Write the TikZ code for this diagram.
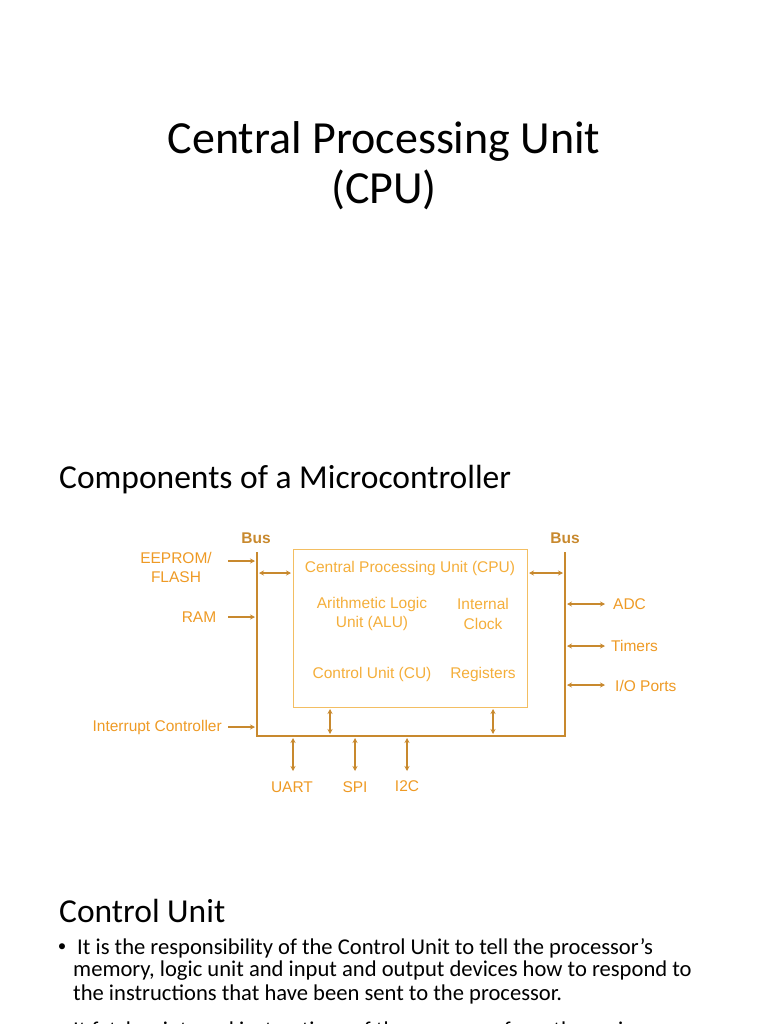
\documentclass[tikz,border=0pt]{standalone}
\usepackage{fontspec}
\usetikzlibrary{arrows.meta}
\setmainfont{Carlito}
\newfontfamily\arialf{Liberation Sans}
\begin{document}
\begin{tikzpicture}[x=1pt,y=-1pt,
  bus/.style={draw=busc,line width=1.6pt},
  arr/.style={draw=busc,line width=1.2pt,-{Stealth[length=5pt,width=5pt]}},
  darr/.style={draw=busc,line width=1.2pt,{Stealth[length=5pt,width=5pt]}-{Stealth[length=5pt,width=5pt]}},
  lbl/.style={text=lblc,font=\arialf\fontsize{15.5}{19}\selectfont,inner sep=0pt,align=center},
  inl/.style={text=inc,font=\arialf\fontsize{15.5}{19.5}\selectfont,inner sep=0pt,align=center},
  body/.style={font=\fontsize{22.6}{23}\selectfont,anchor=west,inner sep=0pt}]
\definecolor{busc}{HTML}{C8892E}
\definecolor{lblc}{HTML}{EE9A25}
\definecolor{inc}{HTML}{F4AE3A}
\definecolor{boxc}{HTML}{F3BE62}
\clip (0,0) rectangle (768,1024);
\useasboundingbox (0,0) rectangle (768,1024);
\node[font=\fontsize{46}{50}\selectfont,align=center] (title) at (384,166) {Central Processing Unit\\(CPU)};
\node[font=\fontsize{33.5}{36}\selectfont,anchor=west,inner sep=0pt] (comp) at (59,480) {Components of a Microcontroller};
% bus
\coordinate (lt) at (257,552); \coordinate (lb) at (257,736);
\coordinate (rt) at (565,552); \coordinate (rb) at (565,736);
\draw[bus] (lt) -- (lb) -- (rb) -- (rt);
\node[text=busc,font=\arialf\bfseries\fontsize{15.5}{17}\selectfont] (bl) at (256,538) {Bus};
\node[text=busc,font=\arialf\bfseries\fontsize{15.5}{17}\selectfont] (br) at (565,538) {Bus};
% cpu box
\node[draw=boxc,line width=0.9pt,minimum width=234pt,minimum height=158pt,anchor=north west] (cpu) at (293,549) {};
\node[inl] (cput) at (410,568) {Central Processing Unit (CPU)};
\node[inl] (alu) at (372,614) {Arithmetic Logic\\Unit (ALU)};
\node[inl] (clk) at (483,614) {Internal\\Clock};
\node[inl] (cu) at (372,674) {Control Unit (CU)};
\node[inl] (reg) at (483,674) {Registers};
% left labels
\node[lbl] (ee) at (176,567) {EEPROM/\\FLASH};
\node[lbl] (ram) at (199,617) {RAM};
\node[lbl,anchor=east] (irq) at (222,727) {Interrupt Controller};
\coordinate (a1) at (228,561); \coordinate (a1e) at (255,561);
\coordinate (a2) at (228,617); \coordinate (a2e) at (255,617);
\coordinate (a3) at (228,727); \coordinate (a3e) at (255,727);
\draw[arr] (a1) -- (a1e); \draw[arr] (a2) -- (a2e); \draw[arr] (a3) -- (a3e);
\coordinate (b1) at (259,573); \coordinate (b1e) at (291,573);
\coordinate (b2) at (529,573); \coordinate (b2e) at (563,573);
\draw[darr] (b1) -- (b1e); \draw[darr] (b2) -- (b2e);
% right
\node[lbl,anchor=west] (adc) at (613,604) {ADC};
\node[lbl,anchor=west] (tim) at (611,646) {Timers};
\node[lbl,anchor=west] (io) at (615,686) {I/O Ports};
\foreach \y/\n in {604/r1,646/r2,685/r3}{
  \coordinate (\n s) at (567,\y); \coordinate (\n e) at (605,\y);
  \draw[darr] (\n s) -- (\n e);}
% vertical
\foreach \x/\n in {330/v1,493/v2}{
  \coordinate (\n s) at (\x,709); \coordinate (\n e) at (\x,734);
  \draw[darr] (\n s) -- (\n e);}
\foreach \x/\n in {293/u1,355/u2,407/u3}{
  \coordinate (\n s) at (\x,738); \coordinate (\n e) at (\x,771);
  \draw[darr] (\n s) -- (\n e);}
\node[lbl] (uart) at (292,787) {UART};
\node[lbl] (spi) at (355,787) {SPI};
\node[lbl] (i2c) at (407,786) {I2C};
% control unit text
\node[font=\fontsize{33.5}{36}\selectfont,anchor=west,inner sep=0pt] (cut) at (59,911) {Control Unit};
\node[font=\fontsize{17}{18}\selectfont,inner sep=0pt] (bul) at (62,948) {•};
\node[body] (l1) at (77,948) {It is the responsibility of the Control Unit to tell the processor’s};
\node[body] (l2) at (73,971) {memory, logic unit and input and output devices how to respond to};
\node[body] (l3) at (73,994) {the instructions that have been sent to the processor.};
\node[font=\fontsize{17}{18}\selectfont,inner sep=0pt] (bul2) at (62,1030) {•};
\node[body] (l4) at (73,1032) {It fetches internal instructions of the programs from the main};
\end{tikzpicture}
\end{document}
